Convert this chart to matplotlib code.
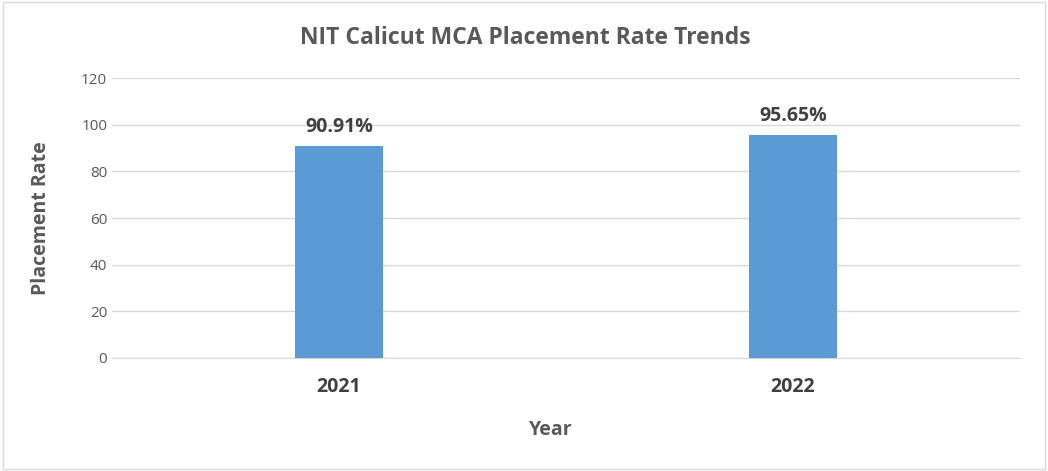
import matplotlib
matplotlib.use("Agg")
import matplotlib.pyplot as plt

years = ["2021", "2022"]
rates = [90.91, 95.65]
labels = ["90.91%", "95.65%"]
yticks = [0, 20, 40, 60, 80, 100, 120]

plt.rcParams['font.family'] = ['Open Sans', 'DejaVu Sans']
fig = plt.figure(figsize=(10.48, 4.71), dpi=100)
ax = fig.add_axes([0.107, 0.24, 0.866, 0.594])
x = list(range(len(years)))
bars = ax.bar(x, rates, width=0.194, color="#5B9BD5", zorder=3)
for b, l in zip(bars, labels):
    ax.text(b.get_x() + b.get_width()/2, b.get_height() + 4, l, ha="center", va="bottom",
            fontsize=14, fontweight="bold", color="#404040")
ax.set_xlim(-0.5, 1.5)
ax.set_ylim(0, 120)
ax.set_yticks(yticks)
ax.set_xticks(x)
ax.set_xticklabels(years, fontsize=14, fontweight="bold", color="#404040")
ax.tick_params(axis="y", labelsize=11, colors="#595959", length=0)
ax.tick_params(axis="x", length=0, pad=14)
ax.grid(axis="y", color="#D9D9D9", linewidth=1, zorder=0)
for s in ["top", "right", "left"]:
    ax.spines[s].set_visible(False)
ax.spines["bottom"].set_color("#D9D9D9")
ax.set_xlabel("Year", fontsize=14, fontweight="bold", color="#595959")
ax.xaxis.set_label_coords(0.483, -0.22)
ax.set_ylabel("Placement Rate", fontsize=14, fontweight="bold", color="#595959")
ax.yaxis.set_label_coords(-0.067, 0.5)
fig.text(0.501, 0.92, "NIT Calicut MCA Placement Rate Trends", ha="center", va="center",
         fontsize=16.5, fontweight="bold", color="#595959")
fig.patches.append(plt.Rectangle((0.003, 0.005), 0.994, 0.99, transform=fig.transFigure,
                                 fill=False, edgecolor="#D9D9D9", linewidth=1))
fig.savefig("out.png", dpi=100)
